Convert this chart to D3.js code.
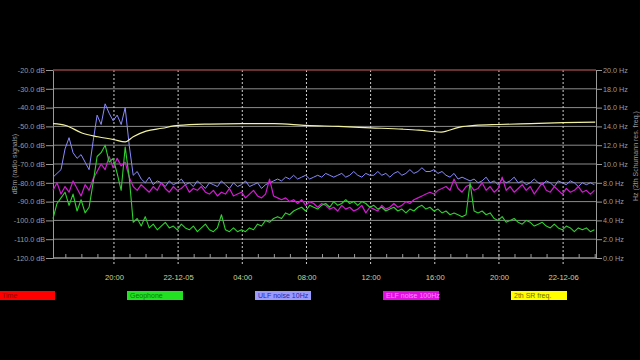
<!DOCTYPE html>
<html><head><meta charset="utf-8">
<script src="https://cdn.jsdelivr.net/npm/d3@7"></script>
<style>html,body{margin:0;padding:0;background:#000;}svg{display:block;}</style>
</head><body>
<svg id="c" width="640" height="360"></svg>
<script>
// ---- data ----
const seriesNames = ["Time", "Geophone", "ULF noise 10Hz", "ELF noise 100Hz", "2th SR freq."];
const seriesColors = ["#ff0000", "#22e022", "#9a9aff", "#e010e0", "#ffff00"];
const dbTicks = [-20,-30,-40,-50,-60,-70,-80,-90,-100,-110,-120];
const hzTicks = [20,18,16,14,12,10,8,6,4,2,0];
const timeTickLabels = ["20:00","22-12-05","04:00","08:00","12:00","16:00","20:00","22-12-06"];
// samples every 15 min starting 2022-12-04 16:12
const ulf = [-77,-75,-73,-62,-56,-64,-67,-65,-69,-73,-58,-44,-49,-38,-43,-47,-44,-49,-40,-60,-76,-74,
 -78,-80,-77,-81,-79,-80,-82,-79,-81,-80,-78,-81,-80,-82,-79,-81,-83,-80,-81,-82,-79,-81,-83,-80,-82,-81,-79,-82,-81,-80,-83,-81,-80,
 -79,-78,-79,-77,-78,-76,-78,-77,-76,-78,-77,-76,
 -77,-75,-76,-77,-76,-75,-77,-76,-74,-76,-77,-75,-76,-76,-74,-76,-75,-77,-75,-74,-76,-75,-73,-75,-74,-72,-74,
 -74,-73,-75,-74,-76,-77,-75,-78,-77,-78,
 -79,-78,-80,-79,-77,-80,-79,-81,-78,-80,-79,-77,-80,-79,-81,-80,-78,-80,-81,-79,-80,-82,-79,-80,-81,-79,-80,-82,-80,-81,-80,-81];
const geophone = [-99,-91,-88,-85,-92,-86,-95,-89,-96,-93,-80,-66,-64,-60,-69,-67,-75,-84,-61,-77,-101,-99,
 -103,-98,-104,-102,-105,-103,-101,-104,-103,-105,-102,-104,-105,-103,-106,-104,-102,-105,-106,-104,-97,-105,-106,-104,-106,-105,-106,
 -104,-105,-102,-103,-100,-101,-99,-98,-99,-96,-97,-95,
 -94,-93,-95,-92,-93,-94,-92,-91,-93,-90,-92,-91,-89,-91,-90,-92,-90,-91,-93,-92,-94,-93,-95,-94,-93,-95,-94,-96,-94,-95,
 -93,-92,-94,-93,-95,-94,-96,-95,-97,-96,-97,-98,-97,
 -80,
 -95,-96,-95,-97,-96,-99,-100,-98,-101,-100,-99,-101,-102,-100,-101,-103,-102,-101,-103,-104,-102,-104,-105,-103,-104,-106,-104,-105,-104,-106,-105];
const elf = [-84,-80,-86,-82,-85,-79,-83,-87,-81,-84,-78,
 -74,-70,-73,-66,-72,-67,-71,-69,-77,
 -82,-84,-81,-83,-85,-82,-84,-80,-83,-85,-82,-84,-83,-81,-85,-83,-84,-82,
 -85,-86,-84,-87,-85,-86,-83,-87,-86,-85,-88,-86,-84,-87,-88,-86,-78,-87,-88,-89,
 -88,-90,-89,-91,-89,-92,-90,-91,-93,-91,-92,-94,
 -93,-95,-92,-94,-93,-95,-94,-92,-96,-93,-94,-95,-92,-94,-93,-91,-93,-92,-90,
 -91,-89,-88,-87,-86,-85,-86,-84,-83,
 -82,-84,-78,-83,-85,-82,-81,-84,-83,-80,-84,-82,-85,-83,-77,-84,-82,-85,-83,-81,-84,-82,-86,-83,-80,-84,-85,-82,-84,-86,-83,-85,-84,-82,-85,-84,-86,-84];
// 2nd Schumann resonance frequency (Hz): hours since 2022-12-04 00:00
const srHours = [16.2,17,18,19,20,20.7,21.2,22,23,24,26,28,30,32,34,36,38,39,40.4,41.5,42.5,44,46,48,50];
const srHz    = [14.3,14.1,13.3,12.9,12.6,12.35,12.9,13.5,13.8,14.1,14.25,14.3,14.3,14.1,14.0,13.85,13.7,13.6,13.4,13.9,14.1,14.2,14.3,14.4,14.45];
const timeLevel = [-20, -20];

// ---- layout ----
const L = 53, R = 596, T = 70, B = 258;
const t0 = new Date(2022, 11, 4, 16, 12);
const t1 = new Date(2022, 11, 6, 2, 3);
const svg = d3.select("#c");
svg.append("rect").attr("width",640).attr("height",360).attr("fill","#000");

const x = d3.scaleTime().domain([t0, t1]).range([L, R]);
const y = d3.scaleLinear().domain([-120, -20]).range([B, T]);
const y2 = d3.scaleLinear().domain([0, 20]).range([B, T]);
const step = 15*60*1000;
const tAt = i => new Date(t0.getTime() + i*step);
const hourDate = h => new Date(2022, 11, 4, 0, 0, 0, h*3600*1000);

// horizontal grid
svg.append("g").selectAll("line").data(dbTicks).join("line")
  .attr("x1", L).attr("x2", R).attr("y1", d=>y(d)).attr("y2", d=>y(d))
  .attr("stroke", "#8c8c8c").attr("stroke-width", 1);

// vertical dashed 4h lines
const majorTicks = d3.timeHour.every(4).range(new Date(2022,11,4,20), t1);
svg.append("g").selectAll("line").data(majorTicks).join("line")
  .attr("x1", d=>x(d)).attr("x2", d=>x(d)).attr("y1", T).attr("y2", B+8)
  .attr("stroke", "#cfcfcf").attr("stroke-width", 1).attr("stroke-dasharray", "2,2");

// left axis
const ax = svg.append("g").attr("transform", `translate(${L},0)`)
  .call(d3.axisLeft(y).tickValues(dbTicks).tickSize(7).tickFormat(d => d.toFixed(1) + " dB"));
ax.select(".domain").attr("stroke", "#9a9a9a");
ax.selectAll("line").attr("stroke", "#9a9a9a");
ax.selectAll("text").attr("fill", "#9c9c9c").attr("font-family", "Liberation Sans, Arial, sans-serif").attr("font-size", 7.2).attr("dx", 2);

// right axis
const ar = svg.append("g").attr("transform", `translate(${R},0)`)
  .call(d3.axisRight(y2).tickValues(hzTicks).tickSize(6).tickFormat(d => d.toFixed(1) + " Hz"));
ar.select(".domain").attr("stroke", "#9a9a9a");
ar.selectAll("line").attr("stroke", "#9a9a9a");
ar.selectAll("text").attr("fill", "#9c9c9c").attr("font-family", "Liberation Sans, Arial, sans-serif").attr("font-size", 7.2).attr("dx", -2);

// bottom axis line + hourly minor ticks
svg.append("line").attr("x1", L).attr("x2", R).attr("y1", B).attr("y2", B).attr("stroke", "#9a9a9a");
const minorTicks = d3.timeHour.every(1).range(new Date(2022,11,4,17), t1);
svg.append("g").selectAll("line").data(minorTicks).join("line")
  .attr("x1", d=>x(d)).attr("x2", d=>x(d)).attr("y1", B-4).attr("y2", B)
  .attr("stroke", "#9a9a9a");
const axB = svg.append("g").attr("transform", `translate(0,${B})`)
  .call(d3.axisBottom(x).tickValues(majorTicks).tickSize(0).tickPadding(17)
    .tickFormat((d,i) => timeTickLabels[i]));
axB.select(".domain").remove();
axB.selectAll("text").attr("fill", "#d4d48c").attr("font-family", "Liberation Sans, Arial, sans-serif").attr("font-size", 7.6);

// axis titles
svg.append("text").attr("transform", `translate(15,${(T+B)/2}) rotate(-90)`)
  .attr("text-anchor","middle").attr("dy","0.35em").attr("fill","#9c9c9c")
  .attr("font-family","Liberation Sans, Arial, sans-serif").attr("font-size",7).text("dBm (radio signals)");
svg.append("text").attr("transform", `translate(636,${(T+B)/2 - 8}) rotate(-90)`)
  .attr("text-anchor","middle").attr("dy","0.35em").attr("fill","#9c9c9c")
  .attr("font-family","Liberation Sans, Arial, sans-serif").attr("font-size",7).text("Hz (2th Schumann res. freq.)");

// series lines
const lineDb = d3.line().x((d,i)=>x(tAt(i))).y(d=>y(d));
const draw = (data, color, w) => svg.append("path").datum(data).attr("d", lineDb)
  .attr("fill","none").attr("stroke", color).attr("stroke-width", w).attr("stroke-linejoin","round");
draw(ulf, "#8a8aff", 1);
draw(elf, "#d21cd2", 1.2);
draw(geophone, "#30d030", 1.1);

const srLine = d3.line().curve(d3.curveMonotoneX).x((d,i)=>x(hourDate(srHours[i]))).y(d=>y2(d));
svg.append("path").datum(srHz).attr("d", srLine).attr("fill","none").attr("stroke","#f2f2a0").attr("stroke-width",1.2);

// Time series (top red line)
svg.append("line").attr("x1", x(t0)).attr("x2", x(t1)).attr("y1", y(timeLevel[0])).attr("y2", y(timeLevel[1]))
  .attr("stroke", "#8e1c1c").attr("stroke-width", 1.2);

// legend
const legTextColors = ["#8a0000", "#0b7a0b", "#2a2aa0", "#ff90ff", "#6a6a00"];
const lg = svg.append("g").selectAll("g").data(seriesNames).join("g")
  .attr("transform", (d,i)=>`translate(${-1 + i*128},291)`);
lg.append("rect").attr("width",56).attr("height",9).attr("fill",(d,i)=>seriesColors[i]);
lg.append("text").attr("x",3).attr("y",7.3).attr("fill",(d,i)=>legTextColors[i])
  .attr("font-family","Liberation Sans, Arial, sans-serif").attr("font-size",7).text(d=>d);
</script>
</body></html>
